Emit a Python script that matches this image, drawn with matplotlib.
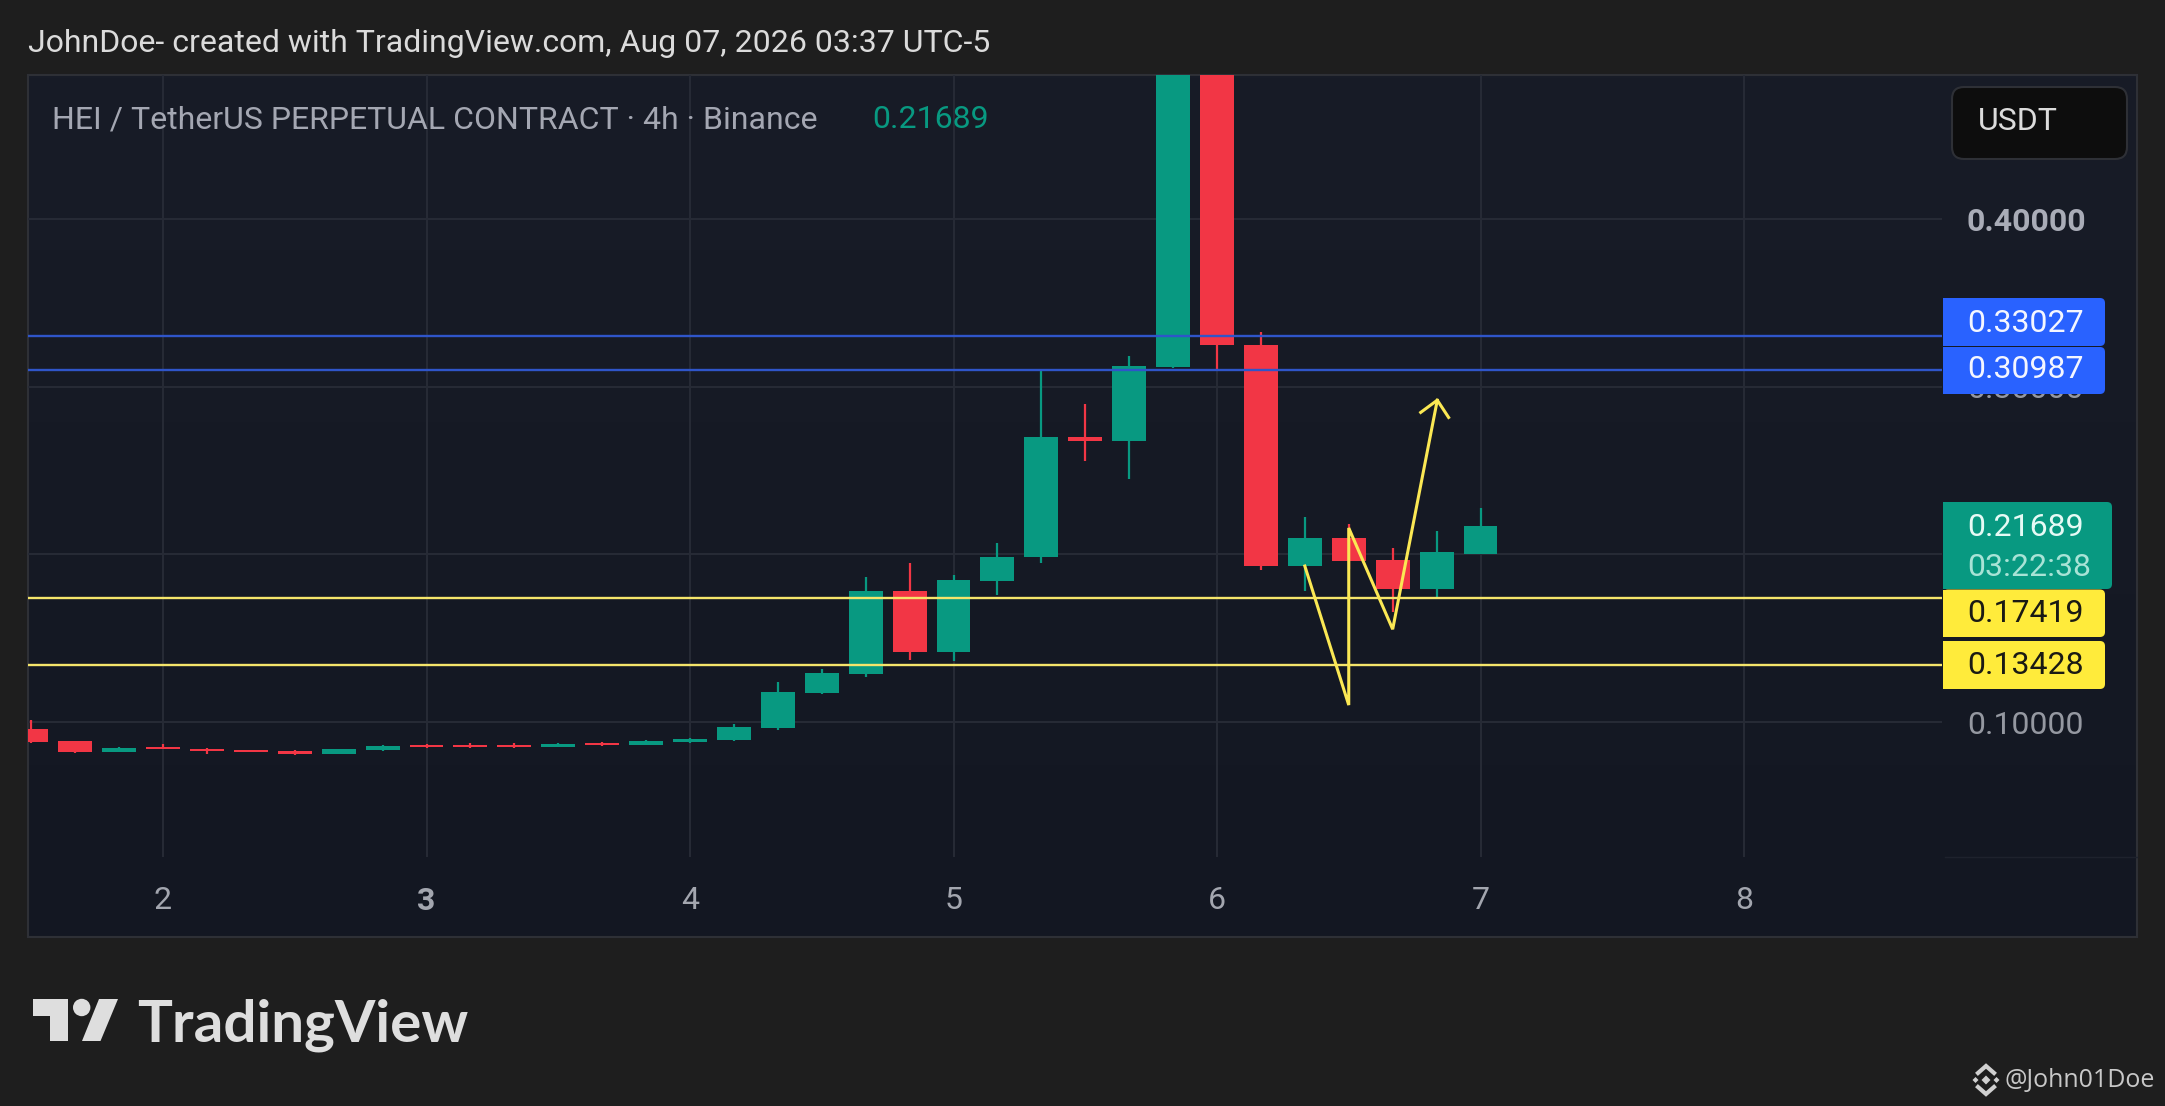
import numpy as np
import matplotlib
matplotlib.use("Agg")
import matplotlib.pyplot as plt
from matplotlib.patches import FancyBboxPatch, Polygon, Circle, Rectangle
from matplotlib.colors import LinearSegmentedColormap

plt.rcParams['font.family'] = ['Roboto', 'DejaVu Sans']

# 4h candles, x in days of the month
days = [1.5 + k / 6 for k in range(34)]
opens = [.0958, .0887, .0821, .0853, .0839, .0833, .0827, .0809, .0833, .0863, .0863, .0863,
         .0851, .0875, .0863, .0881, .0893, .0964, .1173, .1286, .1781, .1417, .1840, .1986,
         .2700, .2675, .3118, .62, .3247, .1930, .2097, .1966, .1793, .2001]
highs = [.1012, .0887, .0853, .0869, .0847, .0833, .0833, .0839, .0863, .0867, .0877, .0877,
         .0877, .0883, .0893, .0905, .0986, .1238, .1316, .1864, .1948, .1879, .2067, .3098,
         .2895, .3181, .62, .62, .3324, .2224, .2180, .2037, .2140, .2275]
lows = [.0877, .0813, .0821, .0837, .0809, .0821, .0805, .0809, .0827, .0843, .0847, .0847,
        .0849, .0855, .0861, .0875, .0885, .0952, .1167, .1268, .1370, .1364, .1757, .1948,
        .2556, .2448, .3112, .3098, .1906, .1783, .1912, .1656, .1739, .2001]
closes = [.0881, .0821, .0845, .0839, .0827, .0821, .0809, .0839, .0857, .0851, .0851, .0851,
          .0869, .0863, .0887, .0899, .0970, .1179, .1292, .1781, .1417, .1846, .1986, .2699,
          .2675, .3122, .62, .3247, .1930, .2097, .1960, .1793, .2013, .21689]

blue_levels = [0.33027, 0.30987]
yellow_levels = [0.17419, 0.13428]
last_price = 0.21689

day_ticks = [2, 3, 4, 5, 6, 7, 8]
price_ticks = [0.1, 0.2, 0.3, 0.4]
price_tick_labels = ['0.10000', '', '0.30000', '0.40000']

# hand drawn zigzag and its arrow head
zig_x = [6.3333, 6.5, 6.5, 6.6667, 6.836]
zig_y = [0.1930, 0.1101, 0.2157, 0.1553, 0.2919]
head_x = [6.773, 6.836, 6.879]
head_y = [0.2846, 0.2919, 0.2816]

GREEN = '#089981'
RED = '#F23645'
YELLOW = '#FFEB3B'
BLUE = '#2962FF'
W, H = 2165, 1106

fig = plt.figure(figsize=(W / 100, H / 100), dpi=100, facecolor='#1E1E1E')

# pixel layer behind the chart
bg = fig.add_axes([0, 0, 1, 1], zorder=0)
bg.set_xlim(0, W)
bg.set_ylim(H, 0)
bg.axis('off')
cmap = LinearSegmentedColormap.from_list('pane', ['#181C27', '#131722'])
bg.imshow(np.linspace(0, 1, 256).reshape(-1, 1), cmap=cmap, aspect='auto',
          extent=(28, 2137, 937, 75), zorder=0)
bg.set_xlim(0, W)
bg.set_ylim(H, 0)
bg.add_patch(Rectangle((28, 75), 2109, 862, fill=False, ec='#2E3036', lw=1.5, zorder=1))
bg.plot([1945, 2137], [857, 857], color='#1E222D', lw=1, zorder=1)

# main chart
x0, x1, y0, y1 = 28, 1942, 75, 857
ax = fig.add_axes([x0 / W, 1 - y1 / H, (x1 - x0) / W, (y1 - y0) / H], zorder=1)
ax.patch.set_alpha(0)
px_per_day = 263.5
ax.set_xlim(2 + (x0 - 163) / px_per_day, 2 + (x1 - 163) / px_per_day)
px_per_price = 1677
ax.set_ylim(0.1 + (722 - y1) / px_per_price, 0.1 + (722 - y0) / px_per_price)
for s in ax.spines.values():
    s.set_visible(False)

ax.set_xticks(day_ticks)
ax.set_xticklabels([str(d) for d in day_ticks])
ax.tick_params(axis='x', length=0, pad=21, labelsize=23, labelcolor='#A3A6AF')
ax.get_xticklabels()[1].set_fontweight('bold')
ax.yaxis.tick_right()
ax.set_yticks(price_ticks)
ax.set_yticklabels(price_tick_labels)
ax.tick_params(axis='y', length=0, pad=18, labelsize=23, labelcolor='#9598A1')
ax.get_yticklabels()[3].set_fontweight('bold')
ax.get_yticklabels()[3].set_color('#A9ACB7')
ax.grid(True, color='#262A35', lw=1.5, zorder=0)
ax.set_axisbelow(True)

colors = [GREEN if c >= o else RED for o, c in zip(opens, closes)]
ax.vlines(days, lows, highs, colors=colors, lw=1.6, zorder=2)
bottoms = [min(o, c) for o, c in zip(opens, closes)]
heights = [abs(c - o) for o, c in zip(opens, closes)]
ax.bar(days, heights, bottom=bottoms, width=0.129, color=colors, lw=0, zorder=3)

ax.hlines(blue_levels, ax.get_xlim()[0], ax.get_xlim()[1], color='#2F55C9', lw=1.7, zorder=4)
ax.hlines(yellow_levels, ax.get_xlim()[0], ax.get_xlim()[1], color='#F5E56B', lw=1.7, zorder=4)
ax.plot(zig_x, zig_y, color='#FBE854', lw=2.2, zorder=5, solid_joinstyle='miter')
ax.plot(head_x, head_y, color='#FBE854', lw=2.2, zorder=5)

# pixel layer on top: labels, header, logo
top = fig.add_axes([0, 0, 1, 1], zorder=2)
top.set_xlim(0, W)
top.set_ylim(H, 0)
top.axis('off')


def price_label(y_top, y_bot, x_right, color):
    top.add_patch(FancyBboxPatch((1943, y_top), x_right - 1943 - 4, y_bot - y_top, boxstyle='round,pad=0,rounding_size=5',
                                 fc=color, ec='none', zorder=1))
    top.add_patch(Rectangle((1943, y_top), 10, y_bot - y_top, fc=color, ec='none', zorder=1))


price_label(298, 346, 2109, BLUE)
price_label(347, 394, 2109, BLUE)
price_label(502, 589, 2116, GREEN)
price_label(589.5, 637, 2109, YELLOW)
price_label(641, 689, 2109, YELLOW)

lx = 1967
top.text(lx, 323, f'{blue_levels[0]:.5f}', color='#F4F6FF', fontsize=23, va='center', zorder=2)
top.text(lx, 370, f'{blue_levels[1]:.5f}', color='#F4F6FF', fontsize=23, va='center', zorder=2)
top.text(lx, 528, f'{last_price:.5f}', color='#E6FAF5', fontsize=23, va='center', zorder=2)
top.text(lx, 567, '03:22:38', color='#A8E3D6', fontsize=23, va='center', zorder=2)
top.text(lx, 614, f'{yellow_levels[0]:.5f}', color='#1A1A14', fontsize=23, va='center', zorder=2)
top.text(lx, 665, f'{yellow_levels[1]:.5f}', color='#1A1A14', fontsize=23, va='center', zorder=2)

top.add_patch(FancyBboxPatch((1952, 87), 175, 72, boxstyle='round,pad=0,rounding_size=12',
                             fc='#0D0D0D', ec='#2E3036', lw=1.5))
top.text(1978, 122, 'USDT', color='#DBDBDB', fontsize=23, va='center')

top.text(28, 43, 'JohnDoe- created with TradingView.com, Aug 07, 2026 03:37 UTC-5',
         color='#DBDBDB', fontsize=23, va='center')
top.text(52, 120, 'HEI / TetherUS PERPETUAL CONTRACT · 4h · Binance', color='#A4A7B2', fontsize=23, va='center')
top.text(872, 120, f'{last_price:.5f}', color=GREEN, fontsize=23, va='center')

# TradingView logo
logo = '#DEDEDE'
top.add_patch(Polygon([(33, 999), (68, 999), (68, 1041), (50, 1041), (50, 1016), (33, 1016)], fc=logo, ec='none'))
top.add_patch(Circle((81.7, 1007.5), 8.7, fc=logo, ec='none'))
top.add_patch(Polygon([(99, 999), (118, 999), (100.5, 1041), (82, 1041)], fc=logo, ec='none'))
top.text(137, 1041, 'TradingView', color=logo, fontsize=42, fontweight='bold', family='Lato', va='baseline')

# Binance mark and handle
cx, cy = 1986, 1080
mark = '#D0D0D0'
for dx, dy, r in [(0, 0, 4.5), (-10.5, 0, 3), (10.5, 0, 3)]:
    top.add_patch(Polygon([(cx + dx - r, cy + dy), (cx + dx, cy + dy - r), (cx + dx + r, cy + dy), (cx + dx, cy + dy + r)],
                          fc=mark, ec='none'))
top.plot([cx - 8, cx, cx + 8], [cy - 7, cy - 14, cy - 7], color=mark, lw=3, solid_joinstyle='miter')
top.plot([cx - 8, cx, cx + 8], [cy + 7, cy + 14, cy + 7], color=mark, lw=3, solid_joinstyle='miter')
top.text(2155, 1081, '@John01Doe', color='#C8C8C8', fontsize=18, family='Open Sans', ha='right', va='center')

fig.savefig('out.png', dpi=100, facecolor=fig.get_facecolor())
